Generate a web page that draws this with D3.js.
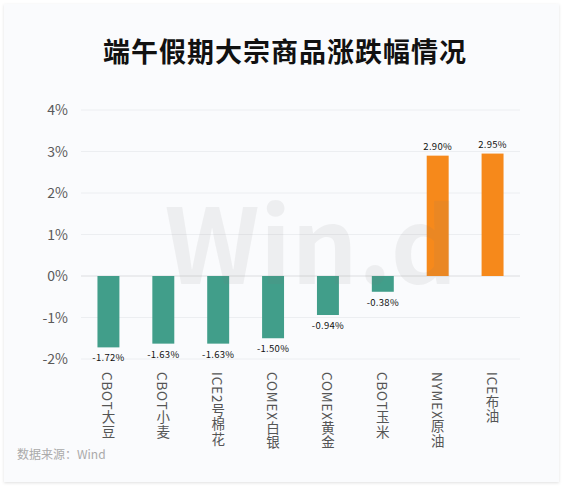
<!DOCTYPE html>
<html>
<head>
<meta charset="utf-8">
<script src="https://cdn.jsdelivr.net/npm/d3@7"></script>
<style>
  body { margin: 0; background: #fff; }
  text { font-family: "Noto Sans CJK SC", "Open Sans", sans-serif; }
</style>
</head>
<body>
<svg id="chart" width="566" height="489"></svg>
<script>
const categories = ["CBOT大豆", "CBOT小麦", "ICE2号棉花", "COMEX白银", "COMEX黄金", "CBOT玉米", "NYMEX原油", "ICE布油"];
const changes = [-1.72, -1.63, -1.63, -1.50, -0.94, -0.38, 2.90, 2.95];
const yTicks = [-2, -1, 0, 1, 2, 3, 4];

let svg = d3.select("#chart");

// card with soft shadow
let defs = svg.append("defs");
let f = defs.append("filter").attr("id", "shadow").attr("x", "-5%").attr("y", "-5%").attr("width", "110%").attr("height", "110%");
f.append("feDropShadow").attr("dx", 0).attr("dy", 1).attr("stdDeviation", 1.5).attr("flood-color", "#000").attr("flood-opacity", 0.12);

svg.append("rect")
    .attr("x", 4).attr("y", 4)
    .attr("width", 555).attr("height", 478)
    .attr("fill", "#fafbfd")
    .attr("filter", "url(#shadow)");

svg.append("text")
    .attr("x", 285).attr("y", 62)
    .attr("text-anchor", "middle")
    .attr("font-size", 27)
    .attr("font-weight", "bold")
    .attr("letter-spacing", 1)
    .attr("fill", "#111")
    .text("端午假期大宗商品涨跌幅情况");

let x = d3.scaleBand()
    .domain(categories)
    .range([81, 520])
    .paddingInner(0.6)
    .paddingOuter(0.3);

let y = d3.scaleLinear()
    .domain([-2, 4])
    .range([359, 110]);

// gridlines
svg.append("g")
    .selectAll("line")
    .data(yTicks)
    .enter()
    .append("line")
    .attr("x1", 81).attr("x2", 520)
    .attr("y1", d => y(d)).attr("y2", d => y(d))
    .attr("stroke", d => d === 0 ? "#dcdde0" : "#eceef1")
    .attr("stroke-width", 1);

// y tick labels
svg.append("g")
    .selectAll("text")
    .data(yTicks)
    .enter()
    .append("text")
    .attr("x", 68)
    .attr("y", d => y(d) + 5)
    .attr("text-anchor", "end")
    .attr("font-size", 14)
    .attr("font-family", "'Liberation Sans', Arial, sans-serif")
    .attr("fill", "#5a5a5a")
    .text(d => d + "%");

// bars
let data = categories.map((c, i) => ({cat: c, v: changes[i]}));
svg.append("g")
    .selectAll("rect")
    .data(data)
    .enter()
    .append("rect")
    .attr("x", d => x(d.cat))
    .attr("width", x.bandwidth())
    .attr("y", d => y(Math.max(0, d.v)))
    .attr("height", d => Math.abs(y(d.v) - y(0)))
    .attr("fill", d => d.v < 0 ? "#419e8a" : "#f6891b");

// watermark (behind labels, above bars)
svg.append("text")
    .attr("x", 311).attr("y", 284)
    .attr("text-anchor", "middle")
    .attr("font-size", 104)
    .attr("font-weight", "bold")
    .attr("font-family", "'Liberation Sans', Arial, sans-serif")
    .attr("fill", "#777")
    .attr("opacity", 0.09)
    .text("Win.d");

// value labels
svg.append("g")
    .selectAll("text")
    .data(data)
    .enter()
    .append("text")
    .attr("x", d => x(d.cat) + x.bandwidth() / 2)
    .attr("y", d => d.v < 0 ? y(d.v) + 14 : y(d.v) - 6)
    .attr("text-anchor", "middle")
    .attr("font-size", 9.5)
    .attr("letter-spacing", 0.3)
    .attr("fill", "#111")
    .text(d => d.v.toFixed(2) + "%");

// category labels, vertical
svg.append("g")
    .selectAll("text")
    .data(categories)
    .enter()
    .append("text")
    .attr("x", d => x(d) + x.bandwidth() / 2)
    .attr("y", 372)
    .attr("writing-mode", "vertical-rl")
    .attr("font-size", 13.5)
    .attr("letter-spacing", 0.8)
    .attr("fill", "#555")
    .text(d => d);

svg.append("text")
    .attr("x", 17).attr("y", 459)
    .attr("font-size", 12)
    .attr("fill", "#aaa")
    .text("数据来源：Wind");
</script>
</body>
</html>
